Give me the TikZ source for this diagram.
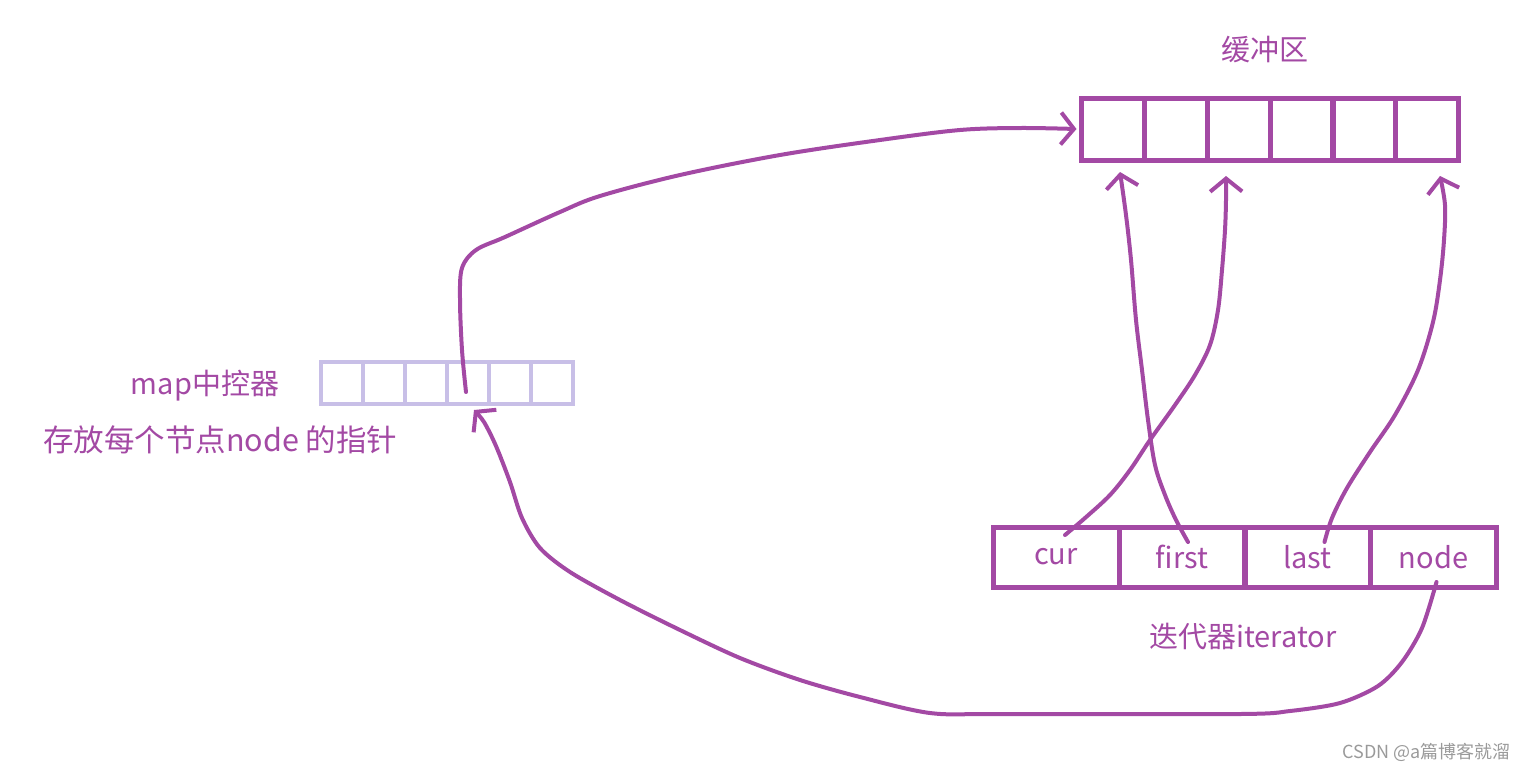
\documentclass[tikz,border=0pt]{standalone}
\usepackage{fontspec}
\setmainfont{Noto Sans CJK SC}
\usetikzlibrary{arrows.meta}
\definecolor{pp}{HTML}{A349A4}
\definecolor{lav}{HTML}{C8BFE7}
\definecolor{wm}{HTML}{9A9A9A}
\begin{document}
\begin{tikzpicture}[x=1pt,y=-1pt,
 bufcell/.style={draw=pp, line width=5pt, minimum width=63pt, minimum height=62pt, inner sep=0pt, outer sep=0pt},
 mapcell/.style={draw=lav, line width=4pt, minimum width=42pt, minimum height=42pt, inner sep=0pt, outer sep=0pt},
 itcell/.style={draw=pp, line width=5pt, minimum width=126pt, minimum height=60pt, inner sep=0pt, outer sep=0pt, text=pp, font=\fontsize{29pt}{30pt}\selectfont},
 lbl/.style={text=pp, font=\fontsize{29pt}{30pt}\selectfont, inner sep=0pt},
 link/.style={draw=pp, line width=4pt, line cap=round, line join=round, -{Straight Barb[length=13pt,width=32pt]}}
]
\useasboundingbox (0,0) rectangle (1525,772);

% buffer
\foreach \i/\x in {1/1113,2/1176,3/1239,4/1302,5/1364,6/1427}
  \node[bufcell] (b\i) at (\x,129) {};
\node[lbl] (buftitle) at (1265,50) {缓冲区};

% map controller
\foreach \i/\x in {1/342,2/384,3/426,4/468,5/510,6/552}
  \node[mapcell] (m\i) at (\x,383) {};
\node[lbl] (maptitle) at (205,386) {map中控器};
\node[lbl, anchor=west, font=\fontsize{30.5pt}{31pt}\selectfont] (mapnote) at (43,440) {存放每个节点node 的指针};

% iterator
\node[itcell] (i1) at (1056,557) {cur};
\node[itcell] (i2) at (1182,557) {first};
\node[itcell] (i3) at (1307.5,557) {last};
\node[itcell] (i4) at (1433.5,557) {node};
\node[lbl] (ittitle) at (1243,636) {迭代器iterator};

% watermark
\node[text=wm, font=\fontsize{18pt}{19pt}\selectfont, inner sep=0pt, anchor=east] (wmark) at (1511,752) {CSDN @a篇博客就溜};

% connector end points
\coordinate (s1) at ([shift={(-2,9)}]m4.center);
\coordinate (e1) at ([xshift=-5pt]b1.west);
\coordinate (s2) at ([shift={(3,25)}]i4.center);
\coordinate (e2) at ([shift={(6,6)}]m4.south);
\coordinate (s3) at ([shift={(9,-22)}]i1.center);
\coordinate (e3) at ([shift={(-13,16)}]b3.south);
\coordinate (s4) at ([shift={(6,-15)}]i2.center);
\coordinate (e4) at ([shift={(7,12)}]b1.south);
\coordinate (s5) at ([shift={(17,-15)}]i3.center);
\coordinate (e5) at ([shift={(13,16)}]b6.south);

% map -> buffer
\draw[link] plot[smooth, tension=0.55] coordinates {(s1) (462,350) (460,300) (462,268) (476,250) (505,237) (560,212) (600,196) (680,175) (780,155) (880,140) (960,130) (1020,128) (e1)};
% node -> map
\draw[link] plot[smooth, tension=0.5] coordinates {(s2) (1422,628) (1402,662) (1378,686) (1340,703) (1290,711) (1240,714) (1000,714) (930,713) (860,697) (800,680) (740,658) (680,630) (620,600) (570,572) (540,548) (522,518) (510,482) (496,446) (484,422) (e2)};
% cur -> buffer cell 3
\draw[link] plot[smooth, tension=0.55] coordinates {(s3) (1085,518) (1110,495) (1130,470) (1150,440) (1175,405) (1195,375) (1210,345) (1218,310) (1222,270) (1225,230) (1226,200) (e3)};
% first -> buffer cell 1
\draw[link] plot[smooth, tension=0.55] coordinates {(s4) (1176,520) (1165,495) (1155,465) (1148,420) (1142,370) (1136,320) (1131,260) (1126,215) (e4)};
% last -> buffer cell 6
\draw[link] plot[smooth, tension=0.55] coordinates {(s5) (1332,518) (1347,488) (1370,452) (1395,415) (1418,370) (1433,322) (1440,280) (1444,240) (1445,205) (e5)};
\end{tikzpicture}
\end{document}
